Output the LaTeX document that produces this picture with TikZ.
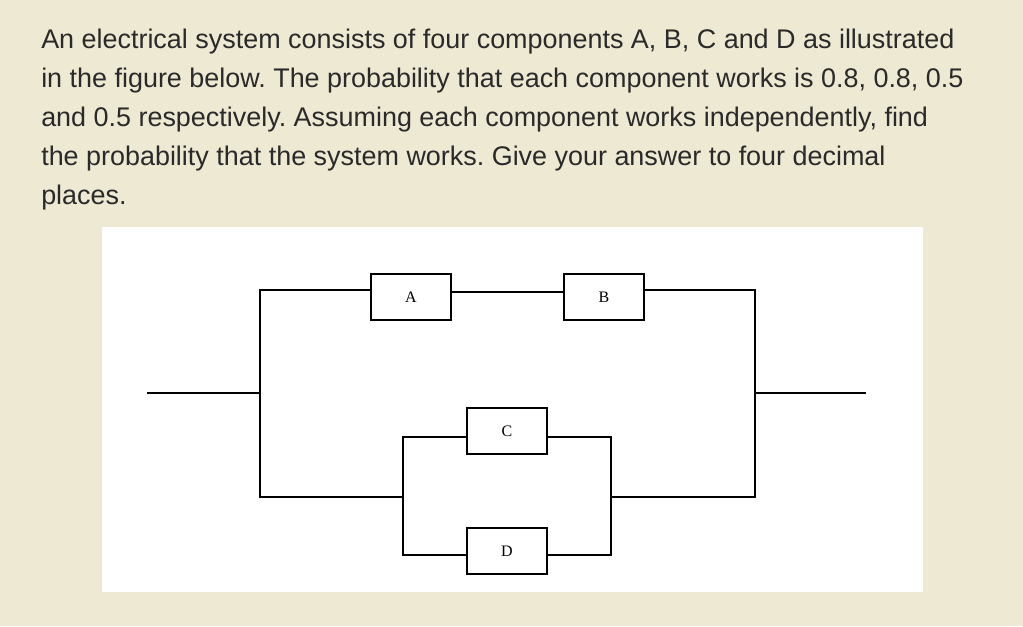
\documentclass[tikz,border=0pt]{standalone}
\usepackage{fontspec}
\setmainfont{Liberation Sans}
\newfontfamily\serifc{Liberation Serif}
\frenchspacing
\definecolor{bg}{HTML}{EEE9D3}
\definecolor{txt}{HTML}{2A2A2A}
\begin{document}
\begin{tikzpicture}[x=0.75pt,y=-0.75pt,
  line/.style={line width=1.6pt,black},
  comp/.style={draw,line width=1.6pt,minimum width=60pt,minimum height=34pt,inner sep=0pt,font=\serifc\fontsize{12}{12}\selectfont},
  ln/.style={anchor=base west,inner sep=0pt,text=txt,font=\fontsize{20.2}{20.2}\selectfont}]
\useasboundingbox (0,0) rectangle (1023,626);
\fill[bg] (0,0) rectangle (1023,626);
\fill[white] (102,227) rectangle (923,592);
\node[ln] (l1) at (41,48) {An electrical system consists of four components A, B, C and D as illustrated};
\node[ln] (l2) at (41,87) {in the figure below. The probability that each component works is 0.8, 0.8, 0.5};
\node[ln] (l3) at (41,126) {and 0.5 respectively. Assuming each component works independently, find};
\node[ln] (l4) at (41,165) {the probability that the system works. Give your answer to four decimal};
\node[ln] (l5) at (41,204) {places.};
\node[comp] (A) at (411,297) {A};
\node[comp] (B) at (604,297) {B};
\node[comp] (C) at (507,431) {C};
\node[comp] (D) at (507,551) {D};
\coordinate (inL) at (147,393);
\coordinate (jL) at (260,393);
\coordinate (inR) at (866,393);
\coordinate (jR) at (755,393);
\draw[line] (inL) -- (jL);
\draw[line] (jR) -- (inR);
\draw[line] (A.west |- 0,290) -- (260,290) -- (260,497) -- (403,497);
\draw[line] (A.east |- 0,292) -- (B.west |- 0,292);
\draw[line] (B.east |- 0,290) -- (755,290) -- (755,497) -- (611,497);
\draw[line] (C.west |- 0,437) -- (403,437) -- (403,555) -- (D.west |- 0,555);
\draw[line] (C.east |- 0,437) -- (611,437) -- (611,555) -- (D.east |- 0,555);
\end{tikzpicture}
\end{document}
